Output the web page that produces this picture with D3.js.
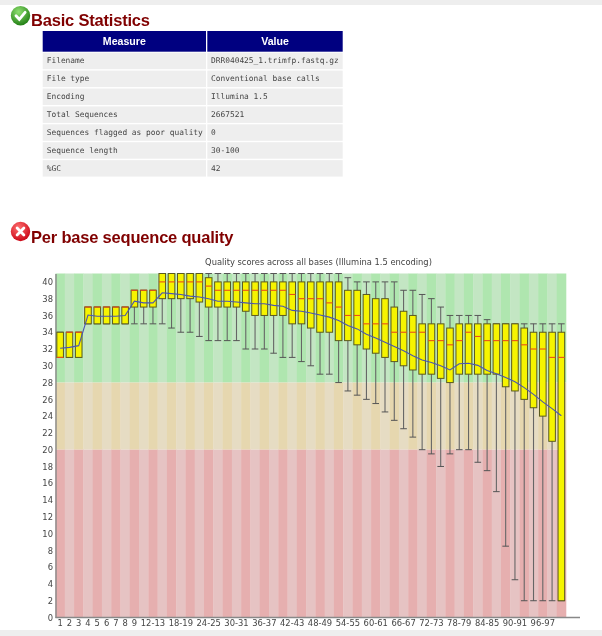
<!DOCTYPE html>
<html>
<head>
<meta charset="utf-8">
<title>Per base sequence quality</title>
<script src="https://cdn.jsdelivr.net/npm/d3@7"></script>
<style>
  html, body { margin: 0; padding: 0; background: #fff; }
  svg { display: block; }
  .soft { filter: blur(0.4px); }
  .head { font-family: "Liberation Sans", Arial, sans-serif; font-weight: bold; font-size: 16.5px; letter-spacing: -0.2px; fill: #800000; }
  .cell { font-family: "DejaVu Sans Mono", monospace; font-size: 7.86px; fill: #444; }
  .th { font-family: "Liberation Sans", Arial, sans-serif; font-weight: bold; font-size: 10.6px; fill: #fff; text-anchor: middle; }
  .axis text { font-family: "DejaVu Sans", sans-serif; font-size: 8.4px; fill: #444; }
  .axis .domain { stroke: #888; stroke-width: 1.4; }
  .axis line { display: none; }
</style>
</head>
<body>
<script>
// table contents
var measures = ["Filename", "File type", "Encoding", "Total Sequences",
                "Sequences flagged as poor quality", "Sequence length", "%GC"];
var values = ["DRR040425_1.trimfp.fastq.gz", "Conventional base calls", "Illumina 1.5",
              "2667521", "0", "30-100", "42"];
var headers = ["Measure", "Value"];

// one entry per base group
var bases = ["1","2","3","4","5","6","7","8","9","10-11","12-13","14-15","16-17","18-19","20-21",
  "22-23","24-25","26-27","28-29","30-31","32-33","34-35","36-37","38-39","40-41","42-43","44-45",
  "46-47","48-49","50-51","52-53","54-55","56-57","58-59","60-61","62-63","64-65","66-67","68-69",
  "70-71","72-73","74-75","76-77","78-79","80-81","82-83","84-85","86-87","88-89","90-91","92-93",
  "94-95","96-97","98-99","100"];
var q1 = [31,31,31,35,35,35,35,35,37,37,37,38,38,38,38,37.6,37,37,37,37,36.5,36,36,36,36,35,35,
  34.5,34,34,33,33,32.5,32,31.5,31,30.5,30,29.5,29,29,28.5,28,29,29,29,29,29,27.5,27,26,25,24,21,2];
var medians = [31,34,34,37,37,37,37,37,39,39,39,40,40,40,40,40,39.5,39,39,39,39,39,39,39,39,38.5,38,
  38,38,37.5,37,36,36,35,35,35,34,34,34,34,33,33,32.5,33,34,33.5,33,33,33,33,32.5,32,32,31,31];
var q3 = [34,34,34,37,37,37,37,37,39,39,39,41,41,41,41,41,40.5,40,40,40,40,40,40,40,40,40,40,
  40,40,40,40,39,39,38.5,38,38,37,36.5,36,35,35,35,34.5,35,35,35,35,35,35,35,34.5,34,34,34,34];
var lower = [31,31,31,35,35,35,35,35,35,35,35,35,34.5,34,34,33.5,33,33,33,33,32,32,32,31.5,31,31,30.5,
  30,29,29,28,27,26.5,26,25.5,24.5,23.5,22.5,21.5,20,19.5,18,19.5,20,20,18.5,17.5,15,8.5,4.5,2,2,2,2,2];
var upper = [34,34,34,37,37,37,37,37,39,39,39,41,41,41,41,41,41,41,41,41,41,41,41,41,41,41,41,
  41,41,41,41,40.5,40,40,40,40,40,39,39,38.5,38,37,36,36,36,36,35.5,35,35,35,35,35,35,35,35];
var means = [32.1,32.2,32.4,36.05,35.9,35.9,35.9,36,37.7,37.5,37.5,38.7,38.6,38.5,38.3,38.2,38,37.7,
  37.7,37.6,37.5,37.4,37.4,37.2,37.1,36.6,36.5,36.3,36.05,35.8,35.4,34.8,34.4,33.75,33.3,32.8,32.3,
  31.8,31.2,30.7,30.4,30,29.5,30.25,30.3,30.05,29.45,29.05,28.6,28.1,27.4,26.6,25.7,24.9,24.05];

var yTicks = d3.range(0, 41, 2);
var xLabels = ["1","2","3","4","5","6","7","8","9","12-13","18-19","24-25","30-31","36-37","42-43",
  "48-49","54-55","60-61","66-67","72-73","78-79","84-85","90-91","96-97"];

// quality zones: [from, to, dark stripe, light stripe]
var zones = [[28, 41, "#afe6af", "#c3e6c3"], [20, 28, "#e6d7af", "#e6dcc3"], [0, 20, "#e6afaf", "#e6c3c3"]];

var width = 602, height = 636;
var plot = {left: 55.5, right: 566, top: 273.5, bottom: 617.5};

var svg = d3.select("body").append("svg")
    .attr("width", width)
    .attr("height", height);

var defs = svg.append("defs");
function gradient(id, light, dark) {
    var g = defs.append("radialGradient").attr("id", id)
        .attr("cx", "40%").attr("cy", "30%").attr("r", "75%");
    g.append("stop").attr("offset", "0%").attr("stop-color", light);
    g.append("stop").attr("offset", "100%").attr("stop-color", dark);
}
gradient("okFill", "#8fe070", "#1c7a10");
gradient("badFill", "#ff7070", "#c80010");

var page = svg.append("g").attr("class", "soft");

// grey page strips
page.append("rect").attr("y", -2).attr("width", width).attr("height", 7).attr("fill", "#eee");
page.append("rect").attr("y", 630).attr("width", width).attr("height", 8).attr("fill", "#eee");

// section headings
function heading(y, cy, text, fill, mark) {
    page.append("circle").attr("cx", 20.5).attr("cy", cy).attr("r", 9.7)
        .attr("fill", "url(#" + fill + ")");
    page.append("path").attr("d", mark)
        .attr("transform", "translate(20.5," + cy + ")")
        .attr("fill", "none").attr("stroke", "#fff")
        .attr("stroke-width", 2.8).attr("stroke-linecap", "round");
    page.append("text").attr("class", "head").attr("x", 31).attr("y", y).text(text);
}
heading(26, 15.7, "Basic Statistics", "okFill", "M-4.5,0L-1.2,3.6L4.6,-3.4");
heading(242.7, 231.5, "Per base sequence quality", "badFill", "M-3.4,-3.4L3.4,3.4M-3.4,3.4L3.4,-3.4");

// stats table
var colX = d3.scaleOrdinal().domain(headers).range([42.7, 207.3]);
var colW = d3.scaleOrdinal().domain(headers).range([163.3, 135.4]);
var rowY = d3.scaleBand().domain(d3.range(measures.length)).range([52.7, 176.6]).paddingInner(0.08).paddingOuter(0);
var table = page.append("g");
table.selectAll("rect.hd")
    .data(headers)
  .enter().append("rect")
    .attr("class", "hd")
    .attr("x", function(d) { return colX(d); })
    .attr("y", 31)
    .attr("width", function(d) { return colW(d); })
    .attr("height", 20.7)
    .attr("fill", "#000080");
table.selectAll("text.th")
    .data(headers)
  .enter().append("text")
    .attr("class", "th")
    .attr("x", function(d) { return colX(d) + colW(d) / 2; })
    .attr("y", 45)
    .text(function(d) { return d; });
measures.forEach(function(m, i) {
    var r = table.append("g").attr("transform", "translate(0," + rowY(i) + ")");
    [m, values[i]].forEach(function(t, c) {
        r.append("rect").attr("x", colX(headers[c])).attr("width", colW(headers[c]))
            .attr("height", rowY.bandwidth()).attr("fill", "#eee");
        r.append("text").attr("class", "cell").attr("x", colX(headers[c]) + (c ? 3.7 : 4))
            .attr("y", rowY.bandwidth() / 2 + 2.5).text(t);
    });
});

// chart
var x = d3.scaleBand().domain(bases).range([plot.left, plot.right]);
var y = d3.scaleLinear().domain([0, 41]).range([plot.bottom, plot.top]);
var chart = page.append("g");

zones.forEach(function(z) {
    chart.append("g").selectAll("rect")
        .data(bases)
      .enter().append("rect")
        .attr("x", function(d) { return x(d); })
        .attr("y", y(z[1]))
        .attr("width", x.bandwidth() + 0.3)
        .attr("height", y(z[0]) - y(z[1]))
        .attr("fill", function(d, i) { return i % 2 ? z[3] : z[2]; });
});

chart.append("text")
    .attr("x", 318.5).attr("y", 265)
    .attr("text-anchor", "middle")
    .style("font-family", '"DejaVu Sans", sans-serif')
    .style("font-size", "8.33px")
    .style("fill", "#444")
    .text("Quality scores across all bases (Illumina 1.5 encoding)");

chart.append("g").attr("class", "axis")
    .attr("transform", "translate(" + plot.left + ",0)")
    .call(d3.axisLeft(y).tickValues(yTicks).tickSize(0).tickPadding(2.5));

var xAxis = chart.append("g").attr("class", "axis")
    .attr("transform", "translate(0," + plot.bottom + ")")
    .call(d3.axisBottom(x).tickValues(xLabels).tickSize(0).tickPadding(3));
xAxis.select(".domain").attr("d", "M" + plot.left + ",0H580");

// boxes
var boxW = 6.6;
var boxes = chart.append("g").selectAll("g")
    .data(bases)
  .enter().append("g")
    .attr("transform", function(d) { return "translate(" + (x(d) + x.bandwidth() / 2) + ",0)"; });

boxes.append("line")
    .attr("y1", function(d, i) { return y(upper[i]); })
    .attr("y2", function(d, i) { return y(lower[i]); })
    .attr("stroke", "#666").attr("stroke-width", 1.1);
[upper, lower].forEach(function(w) {
    boxes.append("line")
        .attr("x1", -boxW / 2).attr("x2", boxW / 2)
        .attr("y1", function(d, i) { return y(w[i]); })
        .attr("y2", function(d, i) { return y(w[i]); })
        .attr("stroke", "#555").attr("stroke-width", 1);
});
boxes.append("rect")
    .attr("x", -boxW / 2)
    .attr("width", boxW)
    .attr("y", function(d, i) { return y(q3[i]); })
    .attr("height", function(d, i) { return y(q1[i]) - y(q3[i]); })
    .attr("fill", "#f6f400")
    .attr("stroke", "#5a5a20").attr("stroke-width", 1);
boxes.append("line")
    .attr("x1", -boxW / 2).attr("x2", boxW / 2)
    .attr("y1", function(d, i) { return y(medians[i]); })
    .attr("y2", function(d, i) { return y(medians[i]); })
    .attr("stroke", "#e8501a").attr("stroke-width", 1.1);

var meanLine = d3.line()
    .x(function(d, i) { return x(bases[i]) + x.bandwidth() / 2; })
    .y(function(d) { return y(d); });
chart.append("path")
    .datum(means)
    .attr("d", meanLine)
    .attr("fill", "none")
    .attr("stroke", "#4a55b0")
    .attr("stroke-width", 1.1);
</script>
</body>
</html>
